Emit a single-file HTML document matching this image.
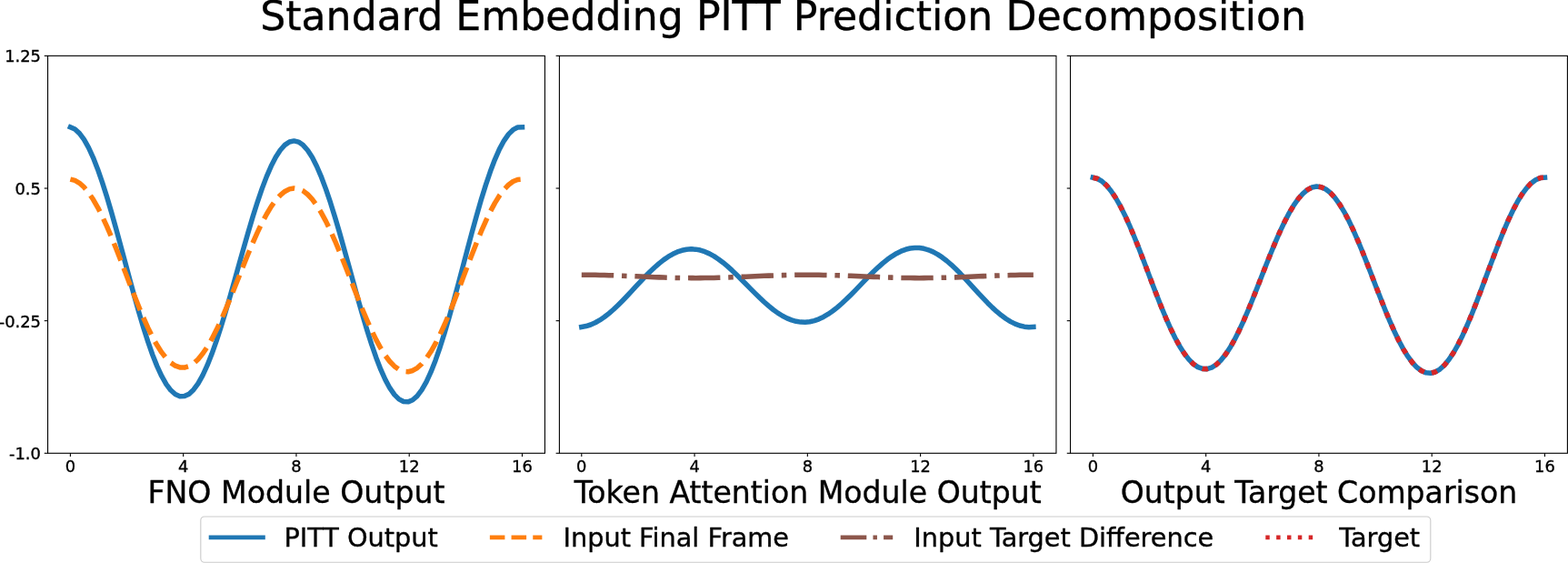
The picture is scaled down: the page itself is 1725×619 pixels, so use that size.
<!DOCTYPE html>
<html lang="en"><head><meta charset="utf-8"><title>Standard Embedding PITT Prediction Decomposition</title>
<style>html,body{margin:0;padding:0;background:#fff;}body{width:1725px;height:619px;overflow:hidden;}svg{display:block;}text{font-family:"DejaVu Sans","Liberation Sans",sans-serif;fill:#000;stroke:#000;stroke-width:0.35px;stroke-linejoin:round;}</style></head><body>
<svg width="1725" height="619" viewBox="0 0 1725 619">
<rect x="0" y="0" width="1725" height="619" fill="#ffffff"/>
<text x="861.6" y="33.0" font-size="44.2" text-anchor="middle">Standard Embedding PITT Prediction Decomposition</text>
<g fill="none" stroke-linejoin="round">
<path d="M77.40,139.87 L82.42,142.05 L87.44,146.58 L92.46,153.39 L97.48,162.35 L102.51,173.33 L107.53,186.15 L112.55,200.58 L117.57,216.42 L122.59,233.39 L127.61,251.22 L132.63,269.63 L137.65,288.32 L142.67,306.99 L147.69,325.35 L152.72,343.10 L157.74,359.96 L162.76,375.66 L167.78,389.96 L172.80,402.63 L177.82,413.48 L182.84,422.33 L187.86,429.05 L192.88,433.54 L197.90,435.73 L202.93,435.60 L207.95,433.16 L212.97,428.45 L217.99,421.55 L223.01,412.58 L228.03,401.70 L233.05,389.08 L238.07,374.93 L243.09,359.49 L248.11,343.01 L253.14,325.75 L258.16,308.00 L263.18,290.05 L268.20,272.20 L273.22,254.72 L278.24,237.91 L283.26,222.03 L288.28,207.36 L293.30,194.12 L298.32,182.53 L303.35,172.78 L308.37,165.03 L313.39,159.41 L318.41,156.02 L323.43,154.90 L328.45,156.09 L333.47,159.56 L338.49,165.26 L343.51,173.11 L348.53,182.97 L353.56,194.70 L358.58,208.11 L363.60,222.98 L368.62,239.08 L373.64,256.14 L378.66,273.90 L383.68,292.06 L388.70,310.33 L393.72,328.42 L398.74,346.04 L403.77,362.89 L408.79,378.70 L413.81,393.21 L418.83,406.18 L423.85,417.40 L428.87,426.69 L433.89,433.87 L438.91,438.84 L443.93,441.51 L448.95,441.82 L453.98,439.76 L459.00,435.36 L464.02,428.68 L469.04,419.83 L474.06,408.93 L479.08,396.17 L484.10,381.73 L489.12,365.85 L494.14,348.77 L499.16,330.77 L504.19,312.13 L509.21,293.15 L514.23,274.13 L519.25,255.37 L524.27,237.17 L529.29,219.83 L534.31,203.61 L539.33,188.77 L544.35,175.56 L549.37,164.18 L554.40,154.81 L559.42,147.60 L564.44,142.66 L569.46,140.07 L574.48,139.87" stroke="#1f77b4" stroke-width="5.53" stroke-linecap="square"/>
<path d="M77.40,197.11 L82.42,198.39 L87.44,201.30 L92.46,205.82 L97.48,211.85 L102.51,219.31 L107.53,228.06 L112.55,237.98 L117.57,248.90 L122.59,260.64 L127.61,273.02 L132.63,285.84 L137.65,298.88 L142.67,311.96 L147.69,324.84 L152.72,337.34 L157.74,349.25 L162.76,360.38 L167.78,370.55 L172.80,379.61 L177.82,387.41 L182.84,393.84 L187.86,398.78 L192.88,402.17 L197.90,403.95 L202.93,404.11 L207.95,402.63 L212.97,399.55 L217.99,394.93 L223.01,388.83 L228.03,381.37 L233.05,372.66 L238.07,362.86 L243.09,352.12 L248.11,340.61 L253.14,328.53 L258.16,316.08 L263.18,303.46 L268.20,290.88 L273.22,278.53 L278.24,266.63 L283.26,255.37 L288.28,244.93 L293.30,235.48 L298.32,227.18 L303.35,220.17 L308.37,214.55 L313.39,210.43 L318.41,207.87 L323.43,206.92 L328.45,207.59 L333.47,209.87 L338.49,213.74 L343.51,219.12 L348.53,225.94 L353.56,234.07 L358.58,243.41 L363.60,253.79 L368.62,265.04 L373.64,277.00 L378.66,289.45 L383.68,302.21 L388.70,315.07 L393.72,327.81 L398.74,340.23 L403.77,352.13 L408.79,363.32 L413.81,373.60 L418.83,382.82 L423.85,390.83 L428.87,397.48 L433.89,402.67 L438.91,406.31 L443.93,408.35 L448.95,408.73 L453.98,407.46 L459.00,404.55 L464.02,400.04 L469.04,394.00 L474.06,386.53 L479.08,377.73 L484.10,367.75 L489.12,356.75 L494.14,344.90 L499.16,332.38 L504.19,319.39 L509.21,306.14 L514.23,292.84 L519.25,279.69 L524.27,266.92 L529.29,254.71 L534.31,243.27 L539.33,232.77 L544.35,223.37 L549.37,215.24 L554.40,208.49 L559.42,203.24 L564.44,199.55 L569.46,197.50 L574.48,197.11" stroke="#ff7f0e" stroke-width="5.53" stroke-dasharray="20.46 8.85" stroke-linecap="butt"/>
</g>
<g stroke="#000" stroke-width="1.1" fill="none">
<line x1="77.40" y1="498.3" x2="77.40" y2="502.10"/>
<line x1="201.67" y1="498.3" x2="201.67" y2="502.10"/>
<line x1="325.94" y1="498.3" x2="325.94" y2="502.10"/>
<line x1="450.21" y1="498.3" x2="450.21" y2="502.10"/>
<line x1="574.48" y1="498.3" x2="574.48" y2="502.10"/>
<line x1="48.75" y1="61.40" x2="52.55" y2="61.40"/>
<line x1="48.75" y1="207.03" x2="52.55" y2="207.03"/>
<line x1="48.75" y1="352.67" x2="52.55" y2="352.67"/>
<line x1="48.75" y1="498.30" x2="52.55" y2="498.30"/>
</g>
<rect x="52.55" y="61.4" width="546.90" height="436.90" fill="none" stroke="#000" stroke-width="1.1" stroke-linejoin="miter"/>
<g font-size="17.85" text-anchor="middle">
<text x="77.40" y="519.1">0</text>
<text x="201.67" y="519.1">4</text>
<text x="325.94" y="519.1">8</text>
<text x="450.21" y="519.1">12</text>
<text x="574.48" y="519.1">16</text>
</g>
<text x="326.00" y="552.6" font-size="33.2" text-anchor="middle">FNO Module Output</text>
<g fill="none" stroke-linejoin="round">
<path d="M639.80,359.46 L644.82,358.57 L649.84,356.99 L654.86,354.77 L659.88,351.93 L664.91,348.53 L669.93,344.61 L674.95,340.25 L679.97,335.51 L684.99,330.47 L690.01,325.22 L695.03,319.84 L700.05,314.41 L705.07,309.03 L710.09,303.77 L715.12,298.73 L720.14,293.98 L725.16,289.59 L730.18,285.64 L735.20,282.18 L740.22,279.27 L745.24,276.96 L750.26,275.27 L755.28,274.23 L760.30,273.85 L765.33,274.14 L770.35,275.09 L775.37,276.67 L780.39,278.87 L785.41,281.64 L790.43,284.94 L795.45,288.71 L800.47,292.89 L805.49,297.41 L810.51,302.19 L815.54,307.17 L820.56,312.25 L825.58,317.36 L830.60,322.42 L835.62,327.34 L840.64,332.04 L845.66,336.45 L850.68,340.51 L855.70,344.13 L860.72,347.27 L865.75,349.88 L870.77,351.90 L875.79,353.32 L880.81,354.11 L885.83,354.24 L890.85,353.73 L895.87,352.57 L900.89,350.78 L905.91,348.40 L910.93,345.45 L915.96,341.99 L920.98,338.07 L926.00,333.74 L931.02,329.09 L936.04,324.17 L941.06,319.08 L946.08,313.89 L951.10,308.69 L956.12,303.55 L961.14,298.58 L966.17,293.83 L971.19,289.40 L976.21,285.36 L981.23,281.77 L986.25,278.69 L991.27,276.19 L996.29,274.29 L1001.31,273.04 L1006.33,272.46 L1011.35,272.55 L1016.38,273.33 L1021.40,274.79 L1026.42,276.89 L1031.44,279.62 L1036.46,282.93 L1041.48,286.76 L1046.50,291.07 L1051.52,295.78 L1056.54,300.81 L1061.56,306.09 L1066.59,311.53 L1071.61,317.05 L1076.63,322.55 L1081.65,327.96 L1086.67,333.17 L1091.69,338.10 L1096.71,342.69 L1101.73,346.84 L1106.75,350.50 L1111.77,353.61 L1116.80,356.12 L1121.82,357.98 L1126.84,359.17 L1131.86,359.66 L1136.88,359.46" stroke="#1f77b4" stroke-width="5.53" stroke-linecap="square"/>
<path d="M639.80,302.22 L644.82,302.23 L649.84,302.27 L654.86,302.34 L659.88,302.43 L664.91,302.55 L669.93,302.69 L674.95,302.85 L679.97,303.03 L684.99,303.22 L690.01,303.42 L695.03,303.63 L700.05,303.85 L705.07,304.06 L710.09,304.28 L715.12,304.49 L720.14,304.69 L725.16,304.87 L730.18,305.05 L735.20,305.20 L740.22,305.34 L745.24,305.45 L750.26,305.53 L755.28,305.59 L760.30,305.63 L765.33,305.64 L770.35,305.62 L775.37,305.57 L780.39,305.49 L785.41,305.39 L790.43,305.27 L795.45,305.13 L800.47,304.96 L805.49,304.78 L810.51,304.59 L815.54,304.38 L820.56,304.17 L825.58,303.96 L830.60,303.74 L835.62,303.53 L840.64,303.32 L845.66,303.12 L850.68,302.94 L855.70,302.77 L860.72,302.62 L865.75,302.49 L870.77,302.39 L875.79,302.30 L880.81,302.25 L885.83,302.22 L890.85,302.22 L895.87,302.25 L900.89,302.30 L905.91,302.39 L910.93,302.49 L915.96,302.62 L920.98,302.77 L926.00,302.94 L931.02,303.12 L936.04,303.32 L941.06,303.53 L946.08,303.74 L951.10,303.96 L956.12,304.17 L961.14,304.38 L966.17,304.59 L971.19,304.78 L976.21,304.96 L981.23,305.13 L986.25,305.27 L991.27,305.39 L996.29,305.49 L1001.31,305.57 L1006.33,305.62 L1011.35,305.64 L1016.38,305.63 L1021.40,305.59 L1026.42,305.53 L1031.44,305.45 L1036.46,305.34 L1041.48,305.20 L1046.50,305.05 L1051.52,304.87 L1056.54,304.69 L1061.56,304.49 L1066.59,304.28 L1071.61,304.06 L1076.63,303.85 L1081.65,303.63 L1086.67,303.42 L1091.69,303.22 L1096.71,303.03 L1101.73,302.85 L1106.75,302.69 L1111.77,302.55 L1116.80,302.43 L1121.82,302.34 L1126.84,302.27 L1131.86,302.23 L1136.88,302.22" stroke="#8c564b" stroke-width="5.53" stroke-dasharray="35.39 8.85 5.53 8.85" stroke-linecap="butt"/>
</g>
<g stroke="#000" stroke-width="1.1" fill="none">
<line x1="639.80" y1="498.3" x2="639.80" y2="502.10"/>
<line x1="764.07" y1="498.3" x2="764.07" y2="502.10"/>
<line x1="888.34" y1="498.3" x2="888.34" y2="502.10"/>
<line x1="1012.61" y1="498.3" x2="1012.61" y2="502.10"/>
<line x1="1136.88" y1="498.3" x2="1136.88" y2="502.10"/>
<line x1="611.60" y1="61.40" x2="615.40" y2="61.40"/>
<line x1="611.60" y1="207.03" x2="615.40" y2="207.03"/>
<line x1="611.60" y1="352.67" x2="615.40" y2="352.67"/>
<line x1="611.60" y1="498.30" x2="615.40" y2="498.30"/>
</g>
<rect x="615.4" y="61.4" width="546.55" height="436.90" fill="none" stroke="#000" stroke-width="1.1" stroke-linejoin="miter"/>
<g font-size="17.85" text-anchor="middle">
<text x="639.80" y="519.1">0</text>
<text x="764.07" y="519.1">4</text>
<text x="888.34" y="519.1">8</text>
<text x="1012.61" y="519.1">12</text>
<text x="1136.88" y="519.1">16</text>
</g>
<text x="888.72" y="552.6" font-size="33.12" text-anchor="middle">Token Attention Module Output</text>
<g fill="none" stroke-linejoin="round">
<path d="M1202.40,195.21 L1207.42,196.50 L1212.44,199.46 L1217.46,204.04 L1222.48,210.16 L1227.51,217.74 L1232.53,226.63 L1237.55,236.71 L1242.57,247.80 L1247.59,259.74 L1252.61,272.32 L1257.63,285.34 L1262.65,298.61 L1267.67,311.90 L1272.69,325.00 L1277.72,337.70 L1282.74,349.81 L1287.76,361.13 L1292.78,371.48 L1297.80,380.69 L1302.82,388.63 L1307.84,395.16 L1312.86,400.19 L1317.88,403.64 L1322.90,405.46 L1327.93,405.62 L1332.95,404.12 L1337.97,401.00 L1342.99,396.30 L1348.01,390.10 L1353.03,382.52 L1358.05,373.67 L1363.07,363.70 L1368.09,352.78 L1373.11,341.08 L1378.14,328.80 L1383.16,316.13 L1388.18,303.29 L1393.20,290.49 L1398.22,277.93 L1403.24,265.83 L1408.26,254.37 L1413.28,243.74 L1418.30,234.13 L1423.32,225.68 L1428.35,218.53 L1433.37,212.82 L1438.39,208.61 L1443.41,206.00 L1448.43,205.02 L1453.45,205.69 L1458.47,208.00 L1463.49,211.92 L1468.51,217.38 L1473.53,224.30 L1478.56,232.57 L1483.58,242.06 L1488.60,252.60 L1493.62,264.04 L1498.64,276.19 L1503.66,288.86 L1508.68,301.83 L1513.70,314.90 L1518.72,327.86 L1523.74,340.49 L1528.77,352.60 L1533.79,363.98 L1538.81,374.44 L1543.83,383.83 L1548.85,391.97 L1553.87,398.75 L1558.89,404.04 L1563.91,407.76 L1568.93,409.84 L1573.95,410.25 L1578.98,408.97 L1584.00,406.02 L1589.02,401.45 L1594.04,395.33 L1599.06,387.74 L1604.08,378.81 L1609.10,368.68 L1614.12,357.50 L1619.14,345.46 L1624.16,332.74 L1629.19,319.54 L1634.21,306.08 L1639.23,292.56 L1644.25,279.20 L1649.27,266.22 L1654.29,253.81 L1659.31,242.17 L1664.33,231.49 L1669.35,221.94 L1674.37,213.67 L1679.40,206.81 L1684.42,201.46 L1689.44,197.71 L1694.46,195.61 L1699.48,195.21" stroke="#1f77b4" stroke-width="5.53" stroke-linecap="square"/>
<path d="M1202.40,195.21 L1207.42,196.50 L1212.44,199.46 L1217.46,204.04 L1222.48,210.16 L1227.51,217.74 L1232.53,226.63 L1237.55,236.71 L1242.57,247.80 L1247.59,259.74 L1252.61,272.32 L1257.63,285.34 L1262.65,298.61 L1267.67,311.90 L1272.69,325.00 L1277.72,337.70 L1282.74,349.81 L1287.76,361.13 L1292.78,371.48 L1297.80,380.69 L1302.82,388.63 L1307.84,395.16 L1312.86,400.19 L1317.88,403.64 L1322.90,405.46 L1327.93,405.62 L1332.95,404.12 L1337.97,401.00 L1342.99,396.30 L1348.01,390.10 L1353.03,382.52 L1358.05,373.67 L1363.07,363.70 L1368.09,352.78 L1373.11,341.08 L1378.14,328.80 L1383.16,316.13 L1388.18,303.29 L1393.20,290.49 L1398.22,277.93 L1403.24,265.83 L1408.26,254.37 L1413.28,243.74 L1418.30,234.13 L1423.32,225.68 L1428.35,218.53 L1433.37,212.82 L1438.39,208.61 L1443.41,206.00 L1448.43,205.02 L1453.45,205.69 L1458.47,208.00 L1463.49,211.92 L1468.51,217.38 L1473.53,224.30 L1478.56,232.57 L1483.58,242.06 L1488.60,252.60 L1493.62,264.04 L1498.64,276.19 L1503.66,288.86 L1508.68,301.83 L1513.70,314.90 L1518.72,327.86 L1523.74,340.49 L1528.77,352.60 L1533.79,363.98 L1538.81,374.44 L1543.83,383.83 L1548.85,391.97 L1553.87,398.75 L1558.89,404.04 L1563.91,407.76 L1568.93,409.84 L1573.95,410.25 L1578.98,408.97 L1584.00,406.02 L1589.02,401.45 L1594.04,395.33 L1599.06,387.74 L1604.08,378.81 L1609.10,368.68 L1614.12,357.50 L1619.14,345.46 L1624.16,332.74 L1629.19,319.54 L1634.21,306.08 L1639.23,292.56 L1644.25,279.20 L1649.27,266.22 L1654.29,253.81 L1659.31,242.17 L1664.33,231.49 L1669.35,221.94 L1674.37,213.67 L1679.40,206.81 L1684.42,201.46 L1689.44,197.71 L1694.46,195.61 L1699.48,195.21" stroke="#d62728" stroke-width="5.53" stroke-dasharray="6.30 8.31" stroke-linecap="butt"/>
</g>
<g stroke="#000" stroke-width="1.1" fill="none">
<line x1="1202.40" y1="498.3" x2="1202.40" y2="502.10"/>
<line x1="1326.67" y1="498.3" x2="1326.67" y2="502.10"/>
<line x1="1450.94" y1="498.3" x2="1450.94" y2="502.10"/>
<line x1="1575.21" y1="498.3" x2="1575.21" y2="502.10"/>
<line x1="1699.48" y1="498.3" x2="1699.48" y2="502.10"/>
<line x1="1173.75" y1="61.40" x2="1177.55" y2="61.40"/>
<line x1="1173.75" y1="207.03" x2="1177.55" y2="207.03"/>
<line x1="1173.75" y1="352.67" x2="1177.55" y2="352.67"/>
<line x1="1173.75" y1="498.30" x2="1177.55" y2="498.30"/>
</g>
<rect x="1177.55" y="61.4" width="546.85" height="436.90" fill="none" stroke="#000" stroke-width="1.1" stroke-linejoin="miter"/>
<g font-size="17.85" text-anchor="middle">
<text x="1202.40" y="519.1">0</text>
<text x="1326.67" y="519.1">4</text>
<text x="1450.94" y="519.1">8</text>
<text x="1575.21" y="519.1">12</text>
<text x="1699.48" y="519.1">16</text>
</g>
<text x="1450.97" y="552.6" font-size="33.1" text-anchor="middle">Output Target Comparison</text>
<g font-size="17.85" text-anchor="end">
<text x="44.9" y="68.20">1.25</text>
<text x="44.9" y="213.53">0.5</text>
<text x="44.9" y="359.97">-0.25</text>
<text x="44.9" y="505.10">-1.0</text>
</g>
<rect x="220.8" y="568.0" width="1353.0" height="50.2" rx="4.2" ry="4.2" fill="#ffffff" stroke="#cccccc" stroke-width="1.15"/>
<line x1="232.0" y1="590.9" x2="289.5" y2="590.9" stroke="#1f77b4" stroke-width="4.6" stroke-linecap="square"/>
<text x="312.4" y="600.8" font-size="28.75">PITT Output</text>
<line x1="538.87" y1="590.9" x2="596.37" y2="590.9" stroke="#ff7f0e" stroke-width="4.6" stroke-dasharray="16.54 7.15"/>
<text x="619.5" y="600.8" font-size="28.75">Input Final Frame</text>
<line x1="924.7" y1="590.9" x2="982.2" y2="590.9" stroke="#8c564b" stroke-width="4.6" stroke-dasharray="28.61 7.15 4.47 7.15"/>
<text x="1005.3" y="600.8" font-size="28.75">Input Target Difference</text>
<line x1="1392.3" y1="590.9" x2="1449.8" y2="590.9" stroke="#d62728" stroke-width="4.6" stroke-dasharray="4.47 7.38"/>
<text x="1473.2" y="600.8" font-size="28.75">Target</text>
</svg></body></html>
